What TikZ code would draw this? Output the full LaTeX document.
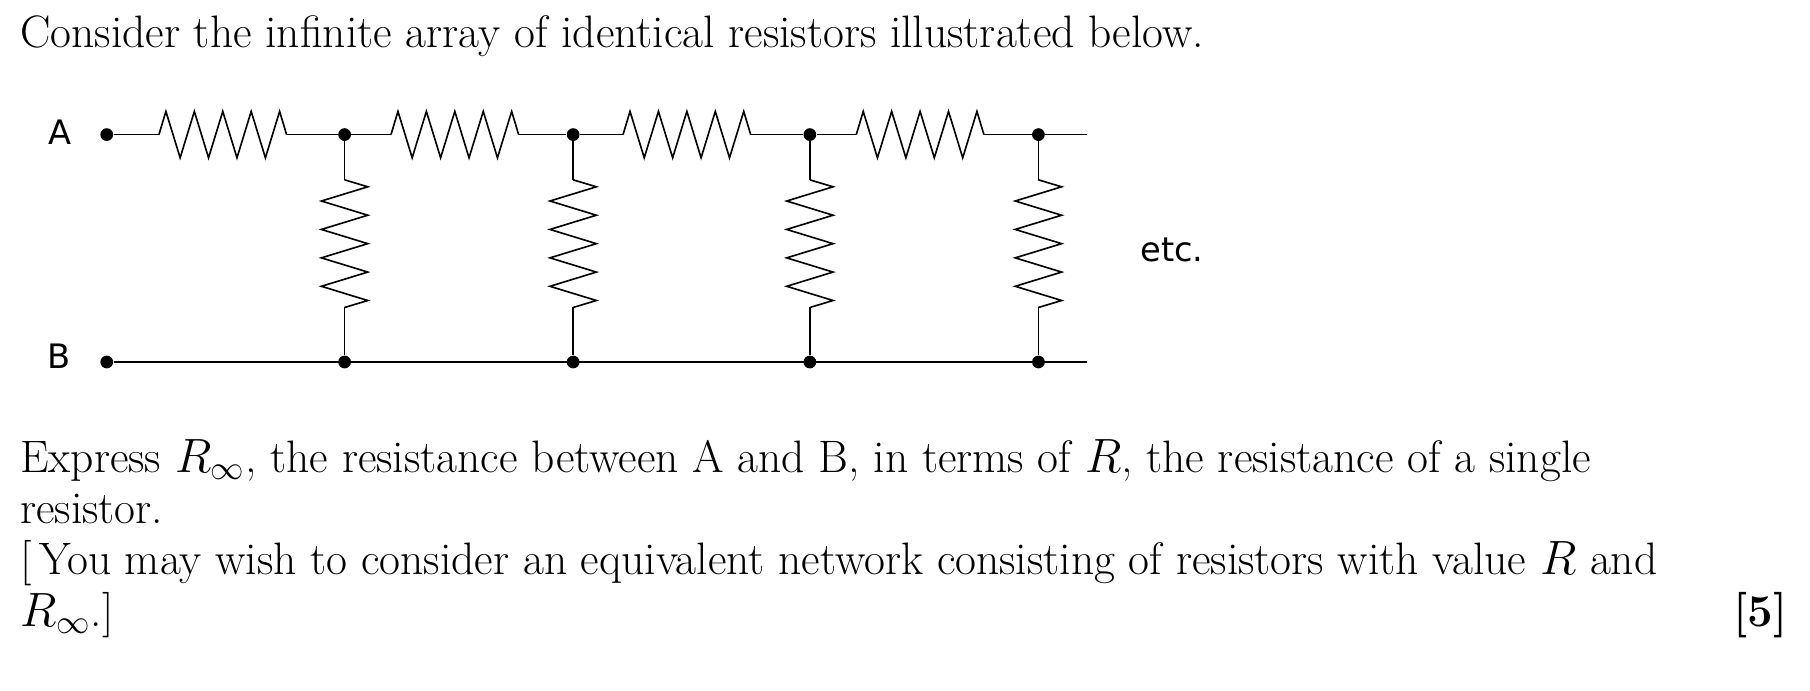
\documentclass[tikz,border=0pt]{standalone}
\usepackage{fontspec}
\newfontfamily\lblfont{DejaVu Sans}
\begin{document}
\begin{tikzpicture}[x=0.5pt,y=-0.5pt,
  wire/.style={line width=0.7pt},
  dot/.style={circle,fill,inner sep=0pt,minimum size=5.5pt},
  txt/.style={anchor=base west,inner sep=0pt,font=\fontsize{19.6}{23}\selectfont},
  lbl/.style={inner sep=0pt,font=\lblfont\fontsize{14.5}{17}\selectfont}]
\useasboundingbox (0,0) rectangle (1560,595);
\newcommand\hres[2]{% start x, y
  \draw[wire] (#1,#2) -- ++(6,-20) \foreach \k in {1,...,4}{ -- ++(12.25,40) -- ++(12.25,-40)} -- ++(6,20);}
\newcommand\vres[2]{% x, start y
  \draw[wire] (#1,#2) -- ++(20,6) \foreach \k in {1,...,4}{ -- ++(-40,12.25) -- ++(40,12.25)} -- ++(-20,6);}
\node[txt] (t1) at (17,41) {Consider the infinite array of identical resistors illustrated below.};
\node[lbl] (la) at (52,114) {A};
\node[lbl] (lb) at (51,307) {B};
\node[lbl] (etc) at (1010,215) {etc.};
\node[dot] (a) at (92,116) {};
\node[dot] (b) at (92,312) {};
\foreach \i/\x in {1/297,2/494,3/698,4/895}{
  \node[dot] (t\i) at (\x,116) {};
  \node[dot] (b\i) at (\x,312) {};
}
\coordinate (te) at (937,116);
\coordinate (be) at (937,312);
\draw[wire] (a) -- (137,116); \hres{137}{116} \draw[wire] (247,116) -- (t1);
\draw[wire] (t1) -- (337,116); \hres{337}{116} \draw[wire] (447,116) -- (t2);
\draw[wire] (t2) -- (537,116); \hres{537}{116} \draw[wire] (647,116) -- (t3);
\draw[wire] (t3) -- (738,116); \hres{738}{116} \draw[wire] (848,116) -- (t4);
\draw[wire] (t4) -- (te);
\draw[wire] (b) -- (be);
\foreach \i/\x in {1/297,2/494,3/698,4/895}{
  \draw[wire] (t\i) -- (\x,155); \vres{\x}{155} \draw[wire] (\x,265) -- (b\i);
}
\node[txt] (t2l) at (17,407) {Express $R_\infty$, the resistance between A and B, in terms of $R$, the resistance of a single};
\node[txt] (t3l) at (17,451) {resistor.};
\node[txt] (t4l) at (17,495) {[\,You may wish to consider an equivalent network consisting of resistors with value $R$ and};
\node[txt] (t5l) at (17,540) {$R_\infty$.]};
\node[txt,anchor=base east] (m) at (1541,540) {\textbf{[5]}};
\end{tikzpicture}
\end{document}
